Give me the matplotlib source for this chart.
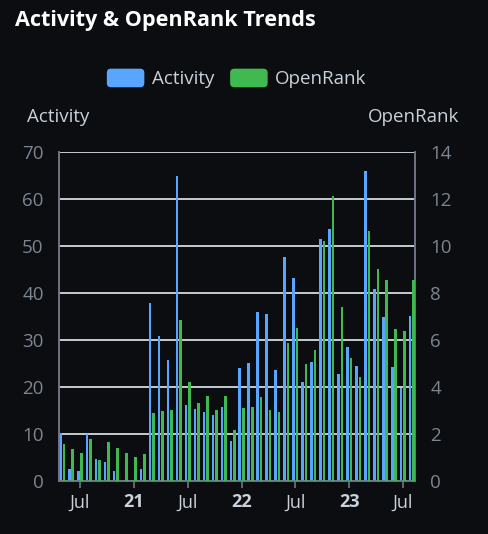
import matplotlib.pyplot as plt
import pandas as pd
from matplotlib.patches import Patch, FancyBboxPatch
from matplotlib.legend_handler import HandlerPatch

# monthly data, May 2020 .. Aug 2023
months = pd.period_range("2020-05", "2023-08", freq="M")
activity = [10.2, 2.6, 2.2, 10.0, 4.6, 4.1, 2.2, 0, 0, 2.6,
            37.9, 30.9, 25.8, 64.8, 16.1, 15.3, 14.75, 14.1, 15.8, 8.5,
            24.0, 25.1, 35.9, 35.55, 23.6, 47.7, 43.1, 21.05, 25.3, 51.4,
            53.6, 22.75, 28.5, 24.5, 66.05, 40.8, 34.85, 24.2, 19.7, 35.1]
openrank = [1.59, 1.34, 1.17, 1.8, 0.91, 1.66, 1.42, 1.21, 1.04, 1.15,
            2.9, 2.96, 3.0, 6.86, 4.21, 3.3, 3.62, 3.04, 3.6, 2.19,
            3.12, 3.13, 3.57, 3.04, 2.95, 5.88, 6.5, 4.96, 5.58, 10.2,
            12.13, 7.4, 5.24, 4.42, 10.63, 9.02, 8.54, 6.46, 6.38, 8.57]

BG = "#0b0d11"
BLUE = "#58a6ff"
GREEN = "#3fb950"
GRID = "#d3d9e2"
AXIS = "#6e7681"
TICK = "#7d8590"
LABEL = "#c9d1d9"

plt.rcParams["font.family"] = ["Open Sans", "DejaVu Sans"]

fig = plt.figure(figsize=(4.89, 5.34), dpi=100, facecolor=BG)
ax = fig.add_axes([0.1207, 0.0993, 0.7280, 0.6161])
ax2 = ax.twinx()
ax.set_facecolor(BG)

x = list(range(len(months)))
ax.bar([i - 0.195 for i in x], activity, width=0.28, color=BLUE, zorder=3)
ax2.bar([i + 0.195 for i in x], openrank, width=0.29, color=GREEN, zorder=3)

ax.set_xlim(-0.34, len(months) - 1 + 0.34)
ax.set_ylim(0, 70)
ax2.set_ylim(0, 14)
ax.set_yticks(range(0, 71, 10))
ax2.set_yticks(range(0, 15, 2))
ax.grid(axis="y", color=GRID, lw=1.3, zorder=0)
ax.set_axisbelow(True)

# x ticks at Jan / Jul
tick_pos = [i for i, m in enumerate(months) if m.month in (1, 7)]
tick_lab = ["Jul" if months[i].month == 7 else f"{months[i].year % 100}" for i in tick_pos]
ax.set_xticks(tick_pos)
ax.set_xticklabels(tick_lab)
for t in ax.get_xticklabels():
    t.set_color(LABEL)
    if t.get_text() != "Jul":
        t.set_fontweight("bold")

for a in (ax, ax2):
    for s in a.spines.values():
        s.set_color(AXIS)
        s.set_linewidth(1.2)
    a.spines["top"].set_visible(False)
ax.tick_params(axis="x", length=5, width=1.2, color=AXIS, labelsize=13, pad=4)
ax.tick_params(axis="y", length=0, labelsize=13.5, labelcolor=TICK, pad=11)
ax2.tick_params(axis="y", length=0, labelsize=13.5, labelcolor=TICK, pad=11)

fig.text(0.031, 0.962, "Activity & OpenRank Trends", color="white",
         fontsize=15.6, fontweight="bold", va="center", ha="left")
fig.text(0.056, 0.781, "Activity", color=LABEL, fontsize=13.5, va="center", ha="left")
fig.text(0.940, 0.781, "OpenRank", color=LABEL, fontsize=13.5, va="center", ha="right")


class RoundHandler(HandlerPatch):
    def create_artists(self, legend, orig_handle, xdescent, ydescent,
                       width, height, fontsize, trans):
        p = FancyBboxPatch((-xdescent, -ydescent), width, height,
                           boxstyle="round,pad=0,rounding_size=3",
                           fc=orig_handle.get_facecolor(), ec="none",
                           transform=trans)
        return [p]


handles = [Patch(color=BLUE, label="Activity"), Patch(color=GREEN, label="OpenRank")]
leg = fig.legend(handles=handles, loc="center", bbox_to_anchor=(0.484, 0.853),
                 ncol=2, frameon=False, fontsize=13.5, labelcolor=LABEL,
                 handlelength=2.0, handleheight=1.15, handletextpad=0.4,
                 columnspacing=0.85,
                 handler_map={Patch: RoundHandler()})

fig.savefig("out.png", facecolor=BG)
